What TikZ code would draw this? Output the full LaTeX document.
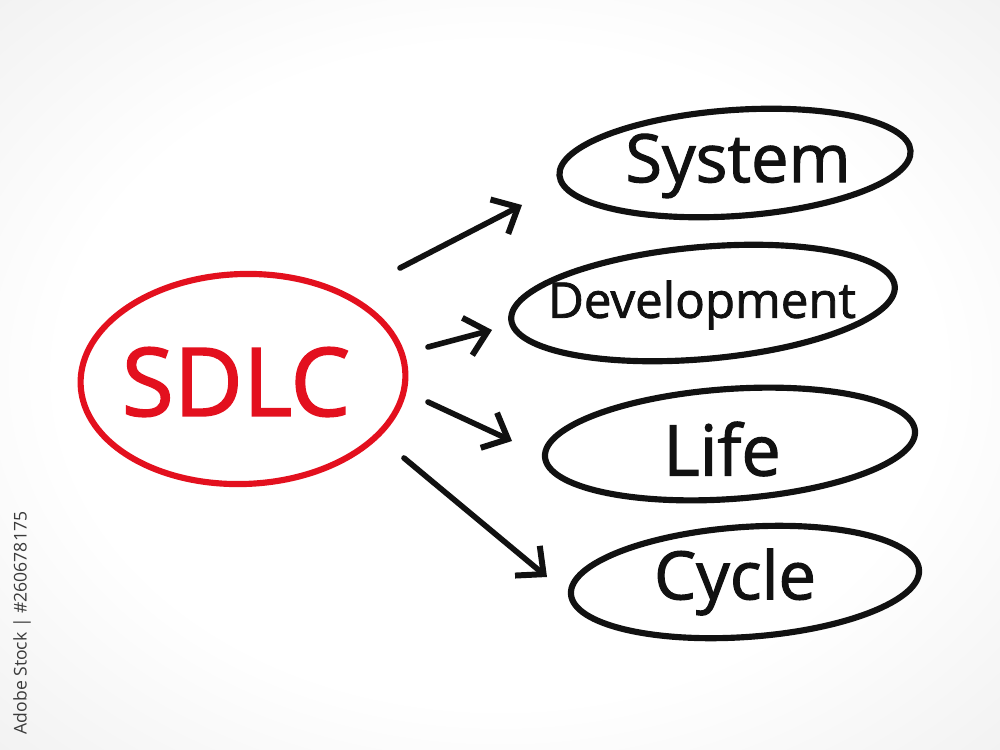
\documentclass[tikz,border=0pt]{standalone}
\usepackage{fontspec}
\setmainfont{Open Sans}
\newfontfamily\handfont{Open Sans}[FakeBold=1.6]
\usetikzlibrary{shapes.geometric,arrows.meta}
\definecolor{sdlcred}{HTML}{E3101E}
\definecolor{ink}{HTML}{111111}
\definecolor{bggray}{HTML}{E4E4E4}
\definecolor{wmark}{HTML}{3A3A3A}
\pgfdeclareradialshading{bgshade}{\pgfpoint{0bp}{0bp}}{color(0bp)=(white); color(22bp)=(white); color(50bp)=(bggray)}
\tikzset{
  oval/.style={ellipse, draw=ink, line width=3.5pt, inner sep=0pt},
  redoval/.style={ellipse, draw=sdlcred, line width=3.5pt, inner sep=0pt},
  word/.style={text=ink, inner sep=0pt},
  arr/.style={draw=ink, line width=3.2pt, line cap=round, -{Straight Barb[length=12pt,width=22pt,line width=3.4pt]}},
}
\begin{document}
\begin{tikzpicture}[x=0.02cm,y=-0.02cm]
\useasboundingbox (0,0) rectangle (1000,750);
\shade[shading=bgshade] (0,0) rectangle (1000,750);
% SDLC
\node[redoval, minimum width=6.5cm, minimum height=4.2cm, rotate=2] (sdlc) at (243,379) {};
\node[text=sdlcred, inner sep=0pt, font=\handfont\fontsize{54}{60}\selectfont] (sdlct) at (236,382) {SDLC};
% right ovals
\node[oval, minimum width=7.04cm, minimum height=2.12cm, rotate=4] (sys) at (735,163) {};
\node[word, font=\handfont\fontsize{38}{46}\selectfont] (syst) at (738,166) {System};
\node[oval, minimum width=7.7cm, minimum height=2.24cm, rotate=5] (dev) at (703,303) {};
\node[word, font=\handfont\fontsize{28}{36}\selectfont] (devt) at (702,305) {Development};
\node[oval, minimum width=7.42cm, minimum height=2.2cm, rotate=4] (life) at (730,444) {};
\node[word, font=\handfont\fontsize{40}{50}\selectfont] (lifet) at (722,449) {Life};
\node[oval, minimum width=6.98cm, minimum height=2.2cm, rotate=4] (cyc) at (745,582) {};
\node[word, font=\handfont\fontsize{38}{46}\selectfont] (cyct) at (735,582) {Cycle};
% arrows
\coordinate (a1s) at (400,268); \coordinate (a1e) at (522,205);
\coordinate (a2s) at (428,347); \coordinate (a2e) at (492,330);
\coordinate (a3s) at (428,402); \coordinate (a3e) at (512,441);
\coordinate (a4s) at (404,458); \coordinate (a4e) at (547,577);
\draw[arr] (a1s) -- (a1e);
\draw[arr] (a2s) -- (a2e);
\draw[arr] (a3s) -- (a3e);
\draw[arr] (a4s) -- (a4e);
% stock id
\node[rotate=90, text=wmark, inner sep=0pt, font=\fontsize{10}{12}\selectfont] (stock) at (22,623) {Adobe Stock | \#260678175};
\end{tikzpicture}
\end{document}
